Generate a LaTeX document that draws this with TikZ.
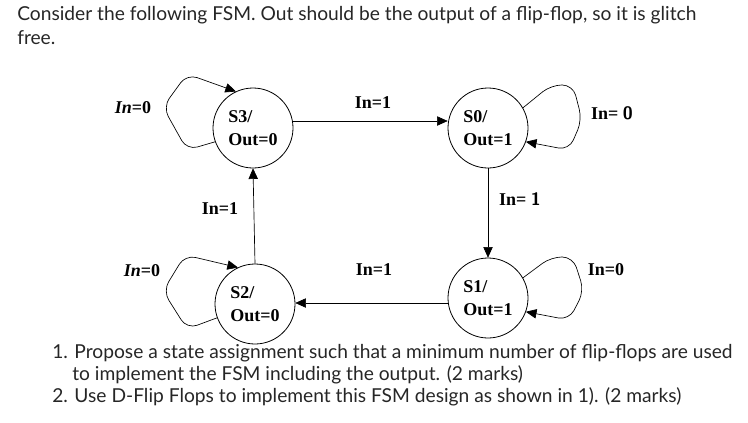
\documentclass[tikz,border=0pt]{standalone}
\usepackage{fontspec}
\setmainfont{Liberation Serif}
\newfontfamily\lato{Lato}
\usetikzlibrary{arrows.meta}
\begin{document}
\begin{tikzpicture}[x=0.75pt,y=-0.75pt,
  st/.style={circle,minimum size=60pt,inner sep=0pt,align=left,font=\bfseries\fontsize{13.5}{17}\selectfont},
  ring/.style={line width=0.6pt},
  lab/.style={font=\bfseries\fontsize{13.5}{16}\selectfont},
  arr/.style={-{Triangle[length=8pt,width=7pt]},line width=0.5pt},
  selfloop/.style={arr,rounded corners=8pt},
  txt/.style={font=\lato\fontsize{14.4}{17}\selectfont,anchor=west,inner sep=0pt,text=black!85}]
\useasboundingbox (0,0) rectangle (748,422);
\node[st] (s3) at (253,128) {S3/\\Out=0};
\node[st] (s0) at (488,128) {S0/\\Out=1};
\node[st] (s1) at (488,298) {S1/\\Out=1};
\node[st] (s2) at (255,304) {S2/\\Out=0};
\foreach \s in {s3,s0,s1,s2} \draw[ring] (\s.center) circle[radius=30pt];
\draw[arr] (s3.east |- 0,121) coordinate (a1) -- (a1 -| s0.west);
\draw[arr] (s0.south) -- (s1.north);
\draw[arr] (s1.west |- 0,303) coordinate (a2) -- (a2 -| s2.east);
\draw[arr] (s2.north) -- (s3.south);
\draw[selfloop] (s3.200) -- (187,150) -- (163,107) -- (187,74) -- (s3.115);
\draw[selfloop] (s2.200) -- (187,329) -- (163,291) -- (185,255) -- (s2.115);
\draw[selfloop] (s0.30) -- (551,85) -- (573,85) -- (582,120) -- (569,150) -- (s0.-20);
\draw[selfloop] (s1.30) -- (551,257) -- (573,257) -- (584,291) -- (569,320) -- (s1.-20);
\node[lab] (l1) at (133,108) {\textit{In}=0};
\node[lab] (l2) at (612,113) {In= \textsf{0}};
\node[lab] (l3) at (373,103) {In=1};
\node[lab] (l4) at (520,199) {In= \textsf{1}};
\node[lab] (l5) at (220,209) {In=1};
\node[lab] (l6) at (374,270) {In=1};
\node[lab] (l7) at (142,271) {\textit{In}=0};
\node[lab] (l8) at (606,270) {In=0};
\node[txt] (t1) at (17,15) {Consider the following FSM. Out should be the output of a flip-flop, so it is glitch};
\node[txt] (t2) at (17,38) {free.};
\node[txt] (t3) at (52,353) {1. Propose a state assignment such that a minimum number of flip-flops are used};
\node[txt] (t4) at (72,375) {to implement the FSM including the output. (2 marks)};
\node[txt] (t5) at (52,397) {2. Use D-Flip Flops to implement this FSM design as shown in 1). (2 marks)};
\end{tikzpicture}
\end{document}
